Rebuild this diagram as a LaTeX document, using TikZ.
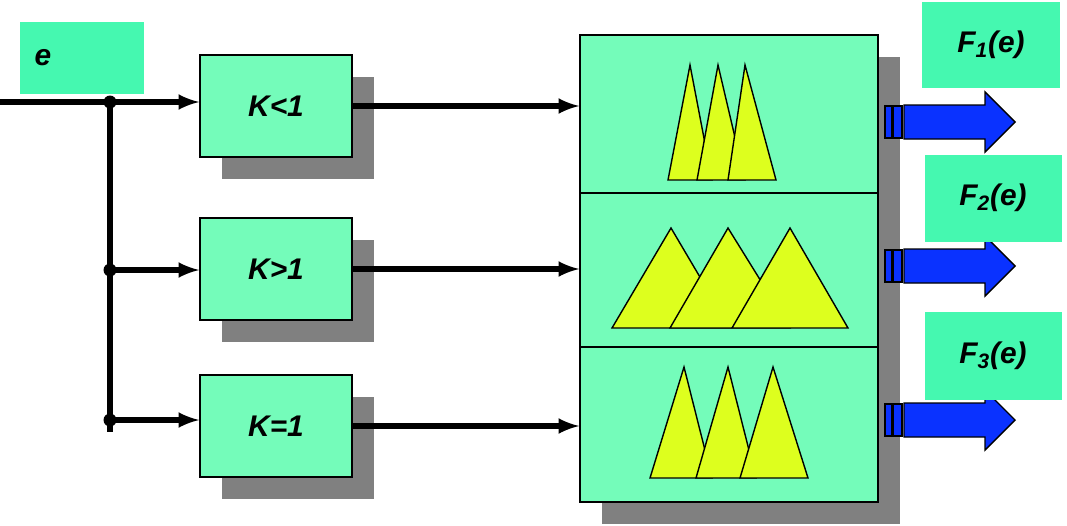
\documentclass[tikz,border=0pt]{standalone}
\usepackage{fontspec}
\setmainfont{Liberation Sans}
\usetikzlibrary{shadows,shapes.arrows}
\definecolor{boxgreen}{HTML}{74FCBA}
\definecolor{labgreen}{HTML}{45F8B0}
\definecolor{trifill}{HTML}{DDFF1E}
\definecolor{outblue}{HTML}{0A32FF}
\definecolor{shadowgray}{HTML}{808080}
\tikzset{
  gain/.style={draw=black, thick, fill=boxgreen, minimum width=3.04cm, minimum height=2.04cm,
    font=\fontsize{17}{20}\selectfont\bfseries\itshape,
    drop shadow={shadow xshift=0.44cm, shadow yshift=-0.44cm, fill=shadowgray, opacity=1}},
  lab/.style={fill=labgreen, font=\fontsize{17}{20}\selectfont\bfseries\itshape},
  sect/.style={draw=black, thick, fill=boxgreen, minimum width=5.96cm},
  tri/.style={draw=black, thick, fill=trifill},
  sig/.style={line width=3pt, -latex},
  outarr/.style={draw=black, thick, fill=outblue},
  dot/.style={circle, fill=black, inner sep=0pt, minimum size=0.26cm}
}
\begin{document}
\begin{tikzpicture}[x=0.02cm, y=-0.02cm]
\useasboundingbox (0,0) rectangle (1067,525);

%---------------- input label ----------------%
\node[lab, minimum width=2.5cm, minimum height=1.46cm, text width=1.9cm] (e) at (82,58) {e};

%---------------- gain boxes ----------------%
\node[gain] (k1) at (276,106) {K<1};
\node[gain] (k2) at (276,269) {K>1};
\node[gain] (k3) at (276,426) {K=1};

%---------------- bus ----------------%
\coordinate (in) at (0,102);
\coordinate (d1) at (110,102);
\coordinate (d2) at (110,270);
\coordinate (d3) at (110,420);
\coordinate (bend) at (110,432);
\draw[line width=3pt] (in) -- (d1);
\draw[line width=3pt] (d1) -- (bend);
\foreach \i in {1,2,3} {
  \node[dot] (p\i) at (d\i) {};
  \draw[sig] (p\i.center) -- (d\i -| k\i.west);
}

%---------------- fuzzy block ----------------%
\fill[shadowgray] (602,57) rectangle (900,524);
\node[sect, minimum height=3.16cm] (s1) at (729,114) {};
\node[sect, minimum height=3.08cm] (s2) at (729,270) {};
\node[sect, minimum height=3.10cm] (s3) at (729,424.5) {};
\foreach \i in {1,2,3}
  \draw[sig] (k\i.east) -- (k\i.east -| s\i.west);

% triangles
\foreach \a/\b/\c in {668/690/712, 697/718/745, 728/745/776}
  \draw[tri] (\a,180) -- (\b,65) -- (\c,180) -- cycle;
\foreach \a/\b/\c in {612/671/730, 670/728/790, 732/790/848}
  \draw[tri] (\a,328) -- (\b,228) -- (\c,328) -- cycle;
\foreach \a/\b/\c in {650/684/712, 696/728/756, 740/773/808}
  \draw[tri] (\a,478) -- (\b,367) -- (\c,478) -- cycle;

%---------------- outputs ----------------%
\foreach \y in {122,266,420} {
  \draw[outarr] (885,\y-16) rectangle (892,\y+16);
  \draw[outarr] (893,\y-16) rectangle (902,\y+16);
  \draw[outarr] (904,\y-17) -- (985,\y-17) -- (985,\y-30) -- (1015,\y)
     -- (985,\y+30) -- (985,\y+17) -- (904,\y+17) -- cycle;
}
\node[lab, minimum width=2.76cm, minimum height=1.72cm] (f1) at (991,45) {F\textsubscript{1}(e)};
\node[lab, minimum width=2.74cm, minimum height=1.74cm] (f2) at (993,198) {F\textsubscript{2}(e)};
\node[lab, minimum width=2.74cm, minimum height=1.76cm] (f3) at (993,356) {F\textsubscript{3}(e)};

\end{tikzpicture}
\end{document}
